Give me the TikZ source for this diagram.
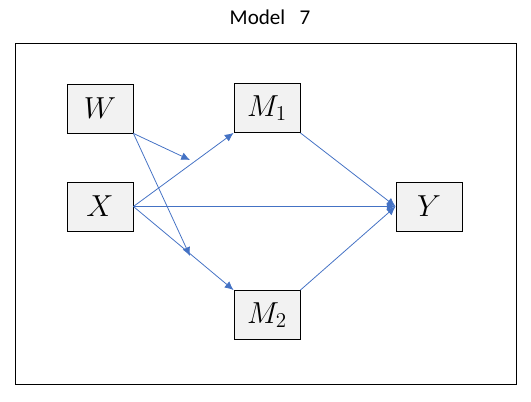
\documentclass[tikz,border=0pt]{standalone}
\usepackage{fontspec}
\setmainfont{Carlito}
\usetikzlibrary{arrows.meta}
\tikzset{
	var/.style={draw=black, fill=gray!10, line width=.5pt, minimum width=1.32cm, minimum height=.98cm, inner sep=0pt, font=\fontsize{18}{20}\selectfont},
	path/.style={draw={rgb,255:red,68;green,114;blue,196}, line width=.45pt, -{Latex[length=5pt,width=4.5pt]}}
}
\begin{document}
\begin{tikzpicture}[x=0.02cm, y=-0.02cm]
		\useasboundingbox (0,0) rectangle (531,402);
		\node [font=\fontsize{12}{14}\selectfont] (title) at (270,17) {Model\ \ \ 7};
		\draw [line width=.5pt] (15,43) rectangle (516,384);
		\node [var] (W) at (100,108.5) {$W$};
		\node [var] (X) at (100,206.5) {$X$};
		\node [var] (M1) at (267,108) {$M_1$};
		\node [var] (M2) at (267,315) {$M_2$};
		\node [var] (Y) at (429,206.5) {$Y$};
		\coordinate (a1) at (190,160);
		\coordinate (a2) at (190,256);
		\draw [path] (X.east) -- (M1.south west);
		\draw [path] (X.east) -- (Y.west);
		\draw [path] (X.east) -- (M2.north west);
		\draw [path] (M1.south east) -- (Y.west);
		\draw [path] (M2.north east) -- (Y.west);
		\draw [path] (W.south east) -- (a1);
		\draw [path] (W.south east) -- (a2);
		
		\end{tikzpicture}
\end{document}
